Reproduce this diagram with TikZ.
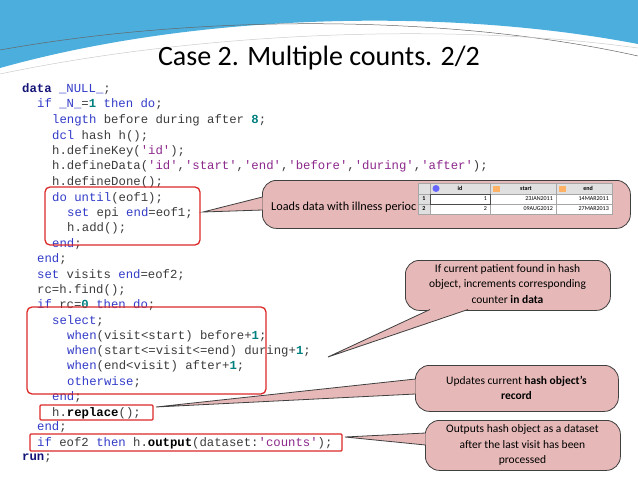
\documentclass[tikz,border=0pt]{standalone}
\usepackage{fontspec}
\setmainfont{Carlito}
\newfontfamily\codefont{Liberation Mono}
\definecolor{kw}{RGB}{50,60,200}
\definecolor{kwd}{RGB}{20,20,120}
\definecolor{num}{RGB}{0,128,128}
\definecolor{str}{RGB}{140,40,140}
\definecolor{txt}{RGB}{60,60,60}
\definecolor{hdr}{RGB}{75,174,220}
\definecolor{pink}{RGB}{230,185,184}
\definecolor{redbox}{RGB}{220,40,40}
\newcommand{\K}[1]{\textcolor{kw}{#1}}
\newcommand{\N}[1]{\textcolor{num}{\bfseries #1}}
\newcommand{\St}[1]{\textcolor{str}{#1}}
\newcommand{\B}[1]{\textcolor{black}{\bfseries #1}}
\tikzset{
  code/.style={anchor=west,inner sep=0pt,font=\codefont\fontsize{12.3}{12}\selectfont,text=txt},
  rbox/.style={draw=redbox,line width=1.3pt,rounded corners=5pt},
  callout/.style={fill=pink,draw=black!75,line width=0.8pt,rounded corners=14pt},
  ctext/.style={align=center,font=\fontsize{11.5}{15.5}\selectfont,text=black},
  tcell/.style={font=\fontsize{6}{7}\selectfont,inner sep=1pt}
}
\begin{document}
\begin{tikzpicture}[x=1pt,y=-1pt]
\useasboundingbox (0,0) rectangle (638,479);
\fill[white] (0,0) rectangle (638,479);
% header
\fill[hdr] (0,0) -- (638,0) -- (638,44) .. controls (450,8) and (200,12) .. (0,68) -- cycle;
\draw[black!60,line width=0.5pt] (0,50) .. controls (200,14) and (450,14) .. (638,56);
\draw[black!20,line width=0.5pt] (0,74) .. controls (200,32) and (450,22) .. (638,48);
\node[font=\fontsize{28}{30}\selectfont] (title) at (319,58) {Case 2. Multiple counts. 2/2};
% code
\node[code] (c1) at (22,89) {\textcolor{kwd}{\bfseries data} \K{\_NULL\_};};
\node[code] (c2) at (37,104) {\K{if} \K{\_N\_}=\N{1} \K{then do};};
\node[code] (c3) at (52,120) {\K{length} before during after \N{8};};
\node[code] (c4) at (52,136) {\K{dcl} hash h();};
\node[code] (c5) at (52,151) {h.defineKey(\St{'id'});};
\node[code] (c6) at (52,166) {h.defineData(\St{'id'},\St{'start'},\St{'end'},\St{'before'},\St{'during'},\St{'after'});};
\node[code] (c7) at (52,182) {h.defineDone();};
\node[code] (c8) at (52,198) {\K{do until}(eof1);};
\node[code] (c9) at (67,213) {\K{set} epi \K{end}=eof1;};
\node[code] (c10) at (67,228) {h.add();};
\node[code] (c11) at (52,244) {\K{end};};
\node[code] (c12) at (37,259) {\K{end};};
\node[code] (c13) at (37,275) {\K{set} visits \K{end}=eof2;};
\node[code] (c14) at (37,290) {rc=h.find();};
\node[code] (c15) at (37,305) {\K{if} rc=\N{0} \K{then do};};
\node[code] (c16) at (52,321) {\K{select};};
\node[code] (c17) at (67,336) {\K{when}(visit<start) before+\N{1};};
\node[code] (c18) at (67,351) {\K{when}(start<=visit<=end) during+\N{1};};
\node[code] (c19) at (67,366) {\K{when}(end<visit) after+\N{1};};
\node[code] (c20) at (67,382) {\K{otherwise};};
\node[code] (c21) at (52,397) {\K{end};};
\node[code] (c22) at (52,413) {h.\B{replace}();};
\node[code] (c23) at (37,427) {\K{end};};
\node[code] (c24) at (37,443) {\K{if} eof2 \K{then} h.\B{output}(dataset:\St{'counts'});};
\node[code] (c25) at (22,458) {\textcolor{kwd}{\bfseries run};};
% red boxes
\draw[rbox] (45,187) rectangle (200,245);
\draw[rbox] (27,307) rectangle (266,394);
\draw[rbox,rounded corners=1pt] (40,405) rectangle (153,420);
\draw[rbox,rounded corners=1pt] (30,434) rectangle (342,451);
% callout 1
\coordinate (t1) at (203,212);
\node[callout,minimum width=368,minimum height=48,anchor=north west] (k1) at (262,180) {};
\draw[black!75,line width=0.8pt,fill=pink] (262.5,197) -- (t1) -- (262.5,210);
\fill[pink] (263.2,196) rectangle (270,211);
\node[anchor=west,font=\fontsize{12.2}{14}\selectfont,inner sep=0pt] (k1t) at (271,207) {Loads data with illness perioc};
% table
\fill[black!12] (418,183) rectangle (612,194);
\fill[white] (430,194) rectangle (612,214);
\fill[black!12] (418,194) rectangle (430,214);
\draw[black!35,line width=0.4pt] (418,183) rectangle (612,214) (418,194) -- (612,194) (418,204) -- (612,204)
  (430,183) -- (430,214) (490,183) -- (490,214) (556,183) -- (556,214);
\draw[black!70,line width=0.8pt] (430,194) rectangle (490,204);
\fill[blue!60] (436,188.5) circle (3.5);
\fill[orange!60] (493,186) rectangle (500,192);
\fill[orange!60] (559,186) rectangle (566,192);
\node[tcell,font=\fontsize{6}{7}\selectfont\bfseries] (h1) at (460,188.5) {id};
\node[tcell,font=\fontsize{6}{7}\selectfont\bfseries] (h2) at (526,188.5) {start};
\node[tcell,font=\fontsize{6}{7}\selectfont\bfseries] (h3) at (588,188.5) {end};
\node[tcell,font=\fontsize{6}{7}\selectfont\bfseries] (r1) at (424,199) {1};
\node[tcell,font=\fontsize{6}{7}\selectfont\bfseries] (r2) at (424,209) {2};
\node[tcell,anchor=east] (a1) at (488,199) {1};
\node[tcell,anchor=east] (a2) at (488,209) {2};
\node[tcell,anchor=east] (b1) at (554,199) {23JAN2011};
\node[tcell,anchor=east] (b2) at (554,209) {09AUG2012};
\node[tcell,anchor=east] (d1) at (610,199) {14MAR2011};
\node[tcell,anchor=east] (d2) at (610,209) {27MAR2013};
% callout 2
\coordinate (t2) at (328,357);
\node[callout,minimum width=205,minimum height=50,anchor=north west] (k2) at (405,260) {};
\draw[black!75,line width=0.8pt,fill=pink] (430,309.5) -- (t2) -- (468,309.5);
\fill[pink] (429,303) rectangle (469,309);
\node[ctext] (k2t) at (507.5,284) {If current patient found in hash\\object, increments corresponding\\counter \textbf{in data}};
% callout 3
\coordinate (t3) at (156,407);
\node[callout,minimum width=203,minimum height=46,anchor=north west] (k3) at (415,365) {};
\draw[black!75,line width=0.8pt,fill=pink] (415.5,379) -- (t3) -- (415.5,394);
\fill[pink] (416.2,378) rectangle (424,395);
\node[ctext] (k3t) at (516.5,388) {Updates current \textbf{hash object's}\\\textbf{record}};
% callout 4
\coordinate (t4) at (345,437);
\node[callout,minimum width=195,minimum height=50,anchor=north west] (k4) at (425,420) {};
\draw[black!75,line width=0.8pt,fill=pink] (425.5,433) -- (t4) -- (425.5,445);
\fill[pink] (426.2,432) rectangle (434,446);
\node[ctext] (k4t) at (522.5,445) {Outputs hash object as a dataset\\after the last visit has been\\processed};
\end{tikzpicture}
\end{document}
